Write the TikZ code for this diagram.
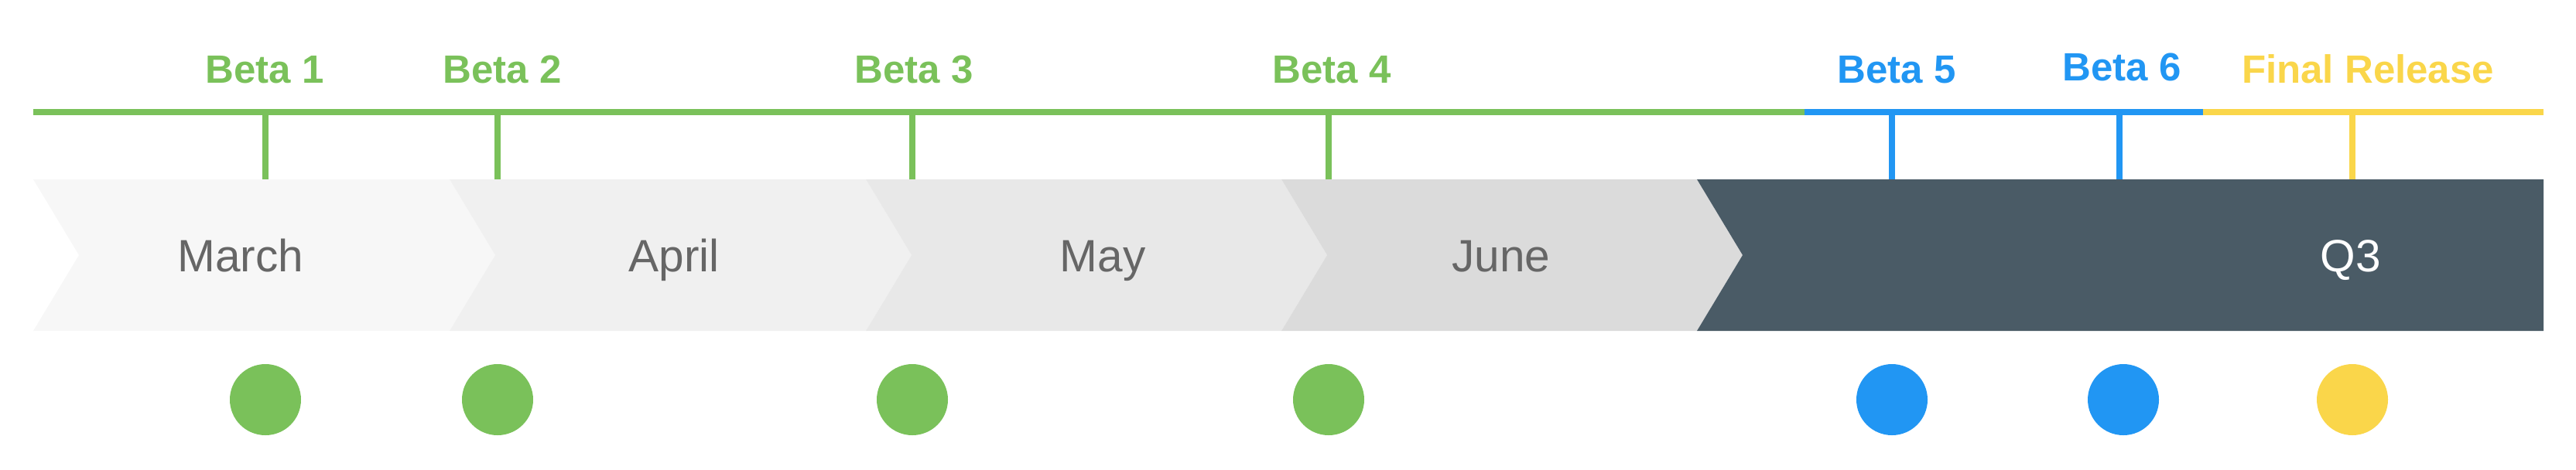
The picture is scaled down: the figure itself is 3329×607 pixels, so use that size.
\documentclass[tikz,border=0pt]{standalone}
\usepackage{fontspec}
\setmainfont{Liberation Sans}
\definecolor{cgreen}{HTML}{7AC15A}
\definecolor{cblue}{HTML}{2196F3}
\definecolor{cyellow}{HTML}{FAD64A}
\definecolor{cdark}{HTML}{4A5B66}
\definecolor{cmar}{HTML}{F7F7F7}
\definecolor{capr}{HTML}{F0F0F0}
\definecolor{cmay}{HTML}{E8E8E8}
\definecolor{cjun}{HTML}{DBDBDB}
\definecolor{cmtext}{HTML}{666666}
\tikzset{
  betalabel/.style={anchor=base, inner sep=0pt, font=\fontsize{25.5}{30}\selectfont\bfseries},
  monthlabel/.style={anchor=base, inner sep=0pt, text=cmtext, font=\fontsize{29.3}{34}\selectfont},
  tickline/.style={line width=3.6pt},
  topline/.style={line width=4pt},
  dot/.style={circle, minimum size=46pt, inner sep=0pt, draw=none},
}
\begin{document}
\begin{tikzpicture}[x=0.5pt,y=-0.5pt]
\useasboundingbox (0,0) rectangle (3329,607);
% band chevrons
\fill[cmar] (43,232) -- (581,232) -- (640,330) -- (581,428) -- (43,428) -- (102,330) -- cycle;
\fill[capr] (581,232) -- (1119,232) -- (1178,330) -- (1119,428) -- (581,428) -- (640,330) -- cycle;
\fill[cmay] (1119,232) -- (1656,232) -- (1715,330) -- (1656,428) -- (1119,428) -- (1178,330) -- cycle;
\fill[cjun] (1656,232) -- (2193,232) -- (2252,330) -- (2193,428) -- (1656,428) -- (1715,330) -- cycle;
\fill[cdark] (2193,232) -- (3287,232) -- (3287,428) -- (2193,428) -- (2252,330) -- cycle;
% month labels
\node[monthlabel] (march) at (311,351) {March};
\node[monthlabel] (april) at (871,351) {April};
\node[monthlabel] (may) at (1425,351) {May};
\node[monthlabel] (june) at (1940,351) {June};
\node[monthlabel, text=white] (q3) at (3038,351) {Q3};
% top line
\coordinate (l0) at (43,145);
\coordinate (l1) at (2332,145);
\coordinate (l2) at (2847,145);
\coordinate (l3) at (3287,145);
\draw[topline, cgreen] (l0) -- (l1);
\draw[topline, cblue] (l1) -- (l2);
\draw[topline, cyellow] (l2) -- (l3);
% tick coordinates
\foreach \n/\x in {t1/343, t2/643, t3/1179, t4/1717, t5/2445, t6/2739, t7/3040}{
  \coordinate (\n a) at (\x,147);
  \coordinate (\n b) at (\x,232);
}
\draw[tickline, cgreen] (t1a) -- (t1b);
\draw[tickline, cgreen] (t2a) -- (t2b);
\draw[tickline, cgreen] (t3a) -- (t3b);
\draw[tickline, cgreen] (t4a) -- (t4b);
\draw[tickline, cblue] (t5a) -- (t5b);
\draw[tickline, cblue] (t6a) -- (t6b);
\draw[tickline, cyellow] (t7a) -- (t7b);
% labels
\node[betalabel, text=cgreen] (b1) at (342,107) {Beta 1};
\node[betalabel, text=cgreen] (b2) at (649,107) {Beta 2};
\node[betalabel, text=cgreen] (b3) at (1181,107) {Beta 3};
\node[betalabel, text=cgreen] (b4) at (1721,107) {Beta 4};
\node[betalabel, text=cblue] (b5) at (2451,107) {Beta 5};
\node[betalabel, text=cblue] (b6) at (2742,104) {Beta 6};
\node[betalabel, text=cyellow] (fr) at (3060,107) {Final Release};
% dots
\node[dot, fill=cgreen] (d1) at (343,517) {};
\node[dot, fill=cgreen] (d2) at (643,517) {};
\node[dot, fill=cgreen] (d3) at (1179,517) {};
\node[dot, fill=cgreen] (d4) at (1717,517) {};
\node[dot, fill=cblue] (d5) at (2445,517) {};
\node[dot, fill=cblue] (d6) at (2744,517) {};
\node[dot, fill=cyellow] (d7) at (3040,517) {};
\end{tikzpicture}
\end{document}
